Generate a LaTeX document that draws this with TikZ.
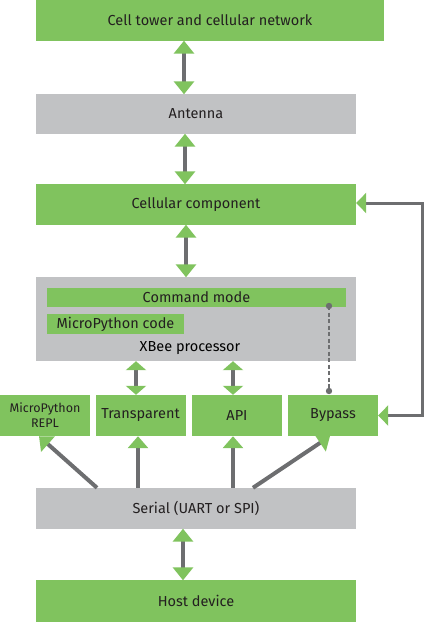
\documentclass[tikz,border=0pt]{standalone}
\usepackage{fontspec}
\setmainfont{Fira Sans}
\usetikzlibrary{arrows.meta}
\definecolor{xgreen}{HTML}{80C35E}
\definecolor{xgray}{HTML}{C1C2C4}
\definecolor{xline}{HTML}{6D6E70}
\definecolor{xtext}{HTML}{231F20}
\tikzstyle{greenbox} = [rectangle, minimum width=320pt, minimum height=41pt, align=center, fill=xgreen, text=xtext, inner sep=0pt]
\tikzstyle{graybox} = [rectangle, minimum width=320pt, minimum height=41pt, align=center, fill=xgray, text=xtext, inner sep=0pt]
\tikzstyle{modebox} = [rectangle, minimum width=90pt, minimum height=41pt, align=center, fill=xgreen, text=xtext, inner sep=0pt]
\tikzstyle{bigtip} = [{Triangle[width=20pt,length=13pt,color=xgreen]}-{Triangle[width=20pt,length=13pt,color=xgreen]}, line width=4pt, draw=xline, shorten <=-0.5pt, shorten >=-0.5pt]
\tikzstyle{smalltip} = [{Triangle[width=20pt,length=9pt,color=xgreen]}-{Triangle[width=20pt,length=9pt,color=xgreen]}, line width=4pt, draw=xline]
\tikzstyle{uptip} = [-{Triangle[width=20pt,length=12pt,color=xgreen]}, line width=4pt, draw=xline]
\tikzstyle{loopline} = [{Triangle[width=20pt,length=10pt,color=xgreen]}-{Triangle[width=20pt,length=10pt,color=xgreen]}, line width=3pt, draw=xline]

\begin{document}
\begin{tikzpicture}[font=\fontsize{14.5}{17}\selectfont, node distance=92pt]
\useasboundingbox (0,0) rectangle (425pt,-622pt);
\node (tower) [greenbox, minimum width=348pt] at (210pt,-20.5pt) {Cell tower and cellular network};
\node (antenna) [graybox, minimum height=40pt] at (196pt,-114pt) {Antenna};
\node (cell) [greenbox] at (196pt,-204.5pt) {Cellular component};
\node (xbee) [graybox, minimum height=84pt] at (196pt,-319pt) {};
\node (cmd) [greenbox, minimum width=299pt, minimum height=19pt] at (196.5pt,-297.5pt) {Command mode};
\node (mpcode) [greenbox, minimum width=137pt, minimum height=20pt] at (115.5pt,-324pt) {MicroPython code};
\node (xbeetext) at (190pt,-348pt) {XBee processor};

\node (repl) [modebox, font=\fontsize{12.5}{15}\selectfont] at (45pt,-415.5pt) {MicroPython\\REPL};
\node (transp) [modebox] at (140.5pt,-415.5pt) {Transparent};
\node (api) [modebox] at (237pt,-415.5pt) {API};
\node (bypass) [modebox] at (333pt,-415.5pt) {Bypass};

\node (serial) [graybox] at (196pt,-508.5pt) {Serial (UART or SPI)};
\node (host) [greenbox, minimum height=42pt, below of=serial, yshift=-0.5pt] {Host device};

% main column
\draw[bigtip] ([xshift=-12pt]antenna.north |- tower.south) -- ([xshift=-12pt]antenna.north);
\draw[bigtip] ([xshift=-11pt]antenna.south) -- ([xshift=-11pt]cell.north);
\draw[bigtip] ([xshift=-10pt]cell.south) -- ([xshift=-10pt]xbee.north);
\draw[bigtip] ([xshift=-13pt]serial.south) -- ([xshift=-13pt]host.north);

% processor to modes
\draw[smalltip] ([xshift=-4.5pt]transp.north |- xbee.south) -- ([xshift=-4.5pt]transp.north);
\draw[smalltip] ([xshift=-4pt]api.north |- xbee.south) -- ([xshift=-4pt]api.north);
\draw[xline, line width=1.3pt, dash pattern=on 4pt off 2.5pt] (329pt,-306pt) coordinate (cmddot) -- (329pt,-391pt) coordinate (bypassdot);
\fill[xline] (cmddot) circle (3.2pt) (bypassdot) circle (3.2pt);

% serial to modes
\draw[uptip] ([xshift=-99pt]serial.north) -- ([xshift=-6pt]repl.south);
\draw[uptip] ([xshift=-2.5pt]transp.south |- serial.north) -- ([xshift=-2.5pt]transp.south);
\draw[uptip] ([xshift=-4pt]api.south |- serial.north) -- ([xshift=-4pt]api.south);
\draw[uptip] ([xshift=57pt]serial.north) -- ([xshift=-3pt]bypass.south);

% bypass loop
\draw[loopline] (bypass.east) -- ++(44pt,0) |- ([yshift=1.5pt]cell.east);
\end{tikzpicture}
\end{document}
